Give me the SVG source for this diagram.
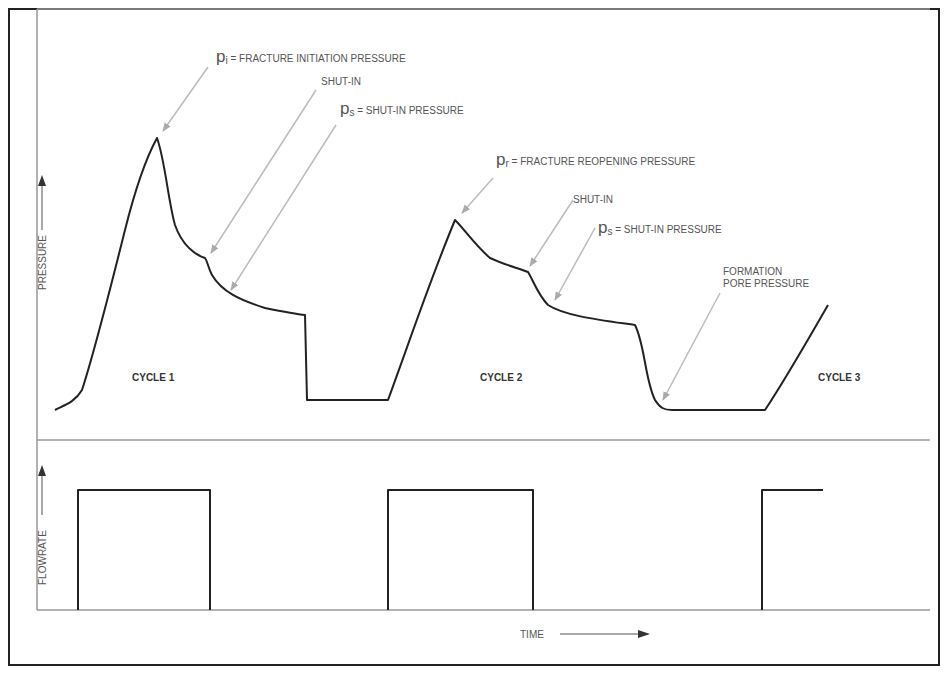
<svg xmlns="http://www.w3.org/2000/svg" width="948" height="678" viewBox="0 0 948 678">
<defs>
<marker id="ah" viewBox="0 0 10 10" refX="9" refY="5" markerWidth="6" markerHeight="6" orient="auto-start-reverse"><path d="M0,1 L10,5 L0,9 z" fill="#aaa"/></marker>
<style>
.t{font-family:"Liberation Sans",Arial,sans-serif;font-size:10px;fill:#555}
.b{font-family:"Liberation Sans",Arial,sans-serif;font-size:10px;font-weight:bold;fill:#333}
.p{font-family:"Liberation Sans",Arial,sans-serif;font-size:17px;fill:#555}
.ld{stroke:#bbb;stroke-width:1.5;fill:none;marker-end:url(#ah)}
.c{stroke:#222;stroke-width:2;fill:none;stroke-linejoin:round}
.ax{stroke:#999;stroke-width:1.5;fill:none}
</style>
</defs>
<rect x="0" y="0" width="948" height="678" fill="#fff"/>
<rect x="9" y="9" width="930" height="656" fill="none" stroke="#222" stroke-width="2"/>
<g id="axes">
<line class="ax" x1="37" y1="9" x2="37" y2="610"/>
<line class="ax" x1="37" y1="9" x2="930" y2="9"/>
<line class="ax" x1="37" y1="440" x2="930" y2="440"/>
<line class="ax" x1="37" y1="610" x2="930" y2="610"/>
<text class="t" transform="translate(46,290) rotate(-90)">PRESSURE</text>
<line stroke="#555" x1="42" y1="230" x2="42" y2="185"/><path d="M38,186 L42,175 L46,186 z" fill="#333"/>
<text class="t" transform="translate(46,585) rotate(-90)">FLOWRATE</text>
<line stroke="#555" x1="42" y1="515" x2="42" y2="475"/><path d="M38,476 L42,465 L46,476 z" fill="#333"/>
<text class="t" x="520" y="638">TIME</text>
<line stroke="#555" x1="560" y1="634" x2="640" y2="634"/><path d="M638,630 L650,634 L638,638 z" fill="#333"/>
</g>
<g id="pressure-curve">
<path class="c" d="M55,410 C65,405 75,402 82,390 C95,350 110,290 125,230 C135,190 145,160 157,138 C165,160 168,200 175,225 C182,245 195,255 205,258 C208,262 208,268 212,275 C222,292 240,300 265,308 C285,312 295,314 305,315 L307,400 L388,400 C410,340 430,280 455,220 C465,230 475,245 490,258 C505,265 518,268 528,272 C533,280 538,295 548,305 C565,316 600,320 635,325 C645,345 645,380 655,400 C660,408 664,410 672,410 L765,410 C785,380 805,345 828,305"/>
</g>
<g id="flowrate-curve">
<path class="c" d="M78,610 L78,490 L210,490 L210,610"/>
<path class="c" d="M388,610 L388,490 L533,490 L533,610"/>
<path class="c" d="M762,610 L762,490 L823,490"/>
</g>
<g id="connectors">
<line class="ld" x1="208" y1="67" x2="163" y2="131"/>
<line class="ld" x1="316" y1="90" x2="211" y2="253"/>
<line class="ld" x1="336" y1="125" x2="231" y2="290"/>
<line class="ld" x1="493" y1="178" x2="462" y2="213"/>
<line class="ld" x1="573" y1="200" x2="530" y2="266"/>
<line class="ld" x1="595" y1="228" x2="555" y2="300"/>
<line class="ld" x1="720" y1="293" x2="663" y2="400"/>
</g>
<g id="labels">
<text x="216" y="62"><tspan class="p">p</tspan><tspan class="t" dy="2" font-size="7">i</tspan><tspan class="t" dy="-2"> = FRACTURE INITIATION PRESSURE</tspan></text>
<text class="t" x="321" y="85" font-size="9">SHUT-IN</text>
<text x="340" y="114"><tspan class="p">p</tspan><tspan class="t" dy="2" font-size="7">s</tspan><tspan class="t" dy="-2"> = SHUT-IN PRESSURE</tspan></text>
<text x="496" y="165"><tspan class="p">p</tspan><tspan class="t" dy="2" font-size="7">r</tspan><tspan class="t" dy="-2"> = FRACTURE REOPENING PRESSURE</tspan></text>
<text class="t" x="573" y="203">SHUT-IN</text>
<text x="598" y="233"><tspan class="p">p</tspan><tspan class="t" dy="2" font-size="7">s</tspan><tspan class="t" dy="-2"> = SHUT-IN PRESSURE</tspan></text>
<text class="t" x="723" y="275">FORMATION</text>
<text class="t" x="723" y="287">PORE PRESSURE</text>
<text class="b" x="132" y="381">CYCLE 1</text>
<text class="b" x="480" y="381">CYCLE 2</text>
<text class="b" x="818" y="381">CYCLE 3</text>
</g>
</svg>
